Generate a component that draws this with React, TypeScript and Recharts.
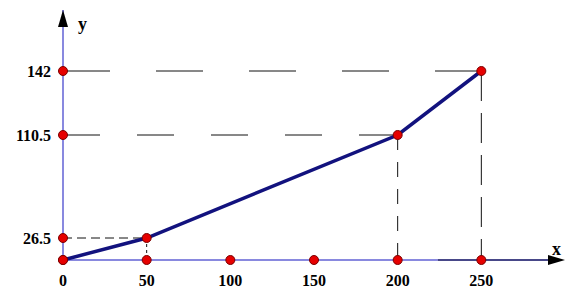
import React from "react";
import {
  ComposedChart,
  Line,
  Scatter,
  XAxis,
  YAxis,
  ReferenceLine,
  ReferenceDot,
} from "recharts";

// data
const xTicks = [0, 50, 100, 150, 200, 250];
const yTicks = [26.5, 110.5, 142];
const pathX = [0, 50, 200, 250];
const pathY = [0, 26.5, 110.5, 142];

// y axis in the picture is not evenly spaced: knots (value) -> share of the axis height
const yKnots = [0, 26.5, 110.5, 142, 190];
const yShare = [0, 0.088, 0.5, 0.756, 1];

const X_MAX = 300;
const Y_MAX = 190;

const lineData = pathX.map((x, i) => ({ x, y: pathY[i] }));
const axisDots = [
  ...xTicks.map(x => ({ x, y: 0 })),
  ...yTicks.map(y => ({ x: 0, y })),
];

// dashed guides from the corner points to the axes
const guides = [
  { x: 50, y: 26.5, h: "9 5", v: "3 3" },
  { x: 200, y: 110.5, h: "37 37", v: "15 12" },
  { x: 250, y: 142, h: "47 46", v: "30 12" },
];

const FONT = "'Liberation Serif', 'Times New Roman', serif";
const NAVY = "#12127e";
const AXIS = "#6262d4";

// piecewise linear scale, shaped like a d3 scale so recharts can use it
function knotScale(knots: number[], share: number[]) {
  const make = (dom: number[], rng: number[]) => {
    let d = dom;
    let r = rng;
    const s: any = (v: number) => {
      let i = 1;
      while (i < knots.length - 1 && v > knots[i]) i++;
      const t = (v - knots[i - 1]) / (knots[i] - knots[i - 1]);
      const f = share[i - 1] + t * (share[i] - share[i - 1]);
      return r[0] + f * (r[r.length - 1] - r[0]);
    };
    s.domain = (nd?: number[]) => {
      if (nd === undefined) return d.slice();
      d = nd.slice();
      return s;
    };
    s.range = (nr?: number[]) => {
      if (nr === undefined) return r.slice();
      r = nr.slice();
      return s;
    };
    s.copy = () => make(d.slice(), r.slice());
    s.ticks = () => knots.slice(0, -1);
    return s;
  };
  return make([knots[0], knots[knots.length - 1]], [0, 1]);
}

const yScale = knotScale(yKnots, yShare);

function RedDot(props: any) {
  const { cx, cy } = props;
  if (cx == null || cy == null) return null;
  return <circle cx={cx} cy={cy} r={4.5} fill="#e60000" stroke="#7a0000" strokeWidth={1} />;
}

function ArrowX(props: any) {
  const { cx, cy } = props;
  return <polygon points={`${cx},${cy} ${cx - 17},${cy - 5} ${cx - 17},${cy + 5}`} fill="#000" />;
}

function ArrowY(props: any) {
  const { cx, cy } = props;
  return <polygon points={`${cx},${cy} ${cx - 5},${cy + 17} ${cx + 5},${cy + 17}`} fill="#000" />;
}

const tickStyle = { fontFamily: FONT, fontWeight: 700, fontSize: 16, fill: "#000" };

export default function App() {
  return (
    <div style={{ position: "absolute", left: 0, top: 0, background: "#fff" }}>
      <ComposedChart
        width={575}
        height={303}
        margin={{ top: 10, right: 10, bottom: 13, left: 8 }}
      >
        <XAxis
          type="number"
          dataKey="x"
          domain={[0, X_MAX]}
          ticks={xTicks}
          axisLine={false}
          tickLine={false}
          tickSize={6}
          tickMargin={9}
          height={30}
          tick={tickStyle}
          interval={0}
        />
        <YAxis
          type="number"
          dataKey="y"
          domain={[0, Y_MAX]}
          scale={yScale}
          ticks={yTicks}
          axisLine={false}
          tickLine={false}
          tickSize={6}
          tickMargin={6}
          width={55}
          tick={tickStyle}
          interval={0}
        />

        {guides.map(g => (
          <ReferenceLine
            key={`h${g.x}`}
            segment={[{ x: 0, y: g.y }, { x: g.x, y: g.y }]}
            stroke="#111"
            strokeWidth={1}
            strokeDasharray={g.h}
          />
        ))}
        {guides.map(g => (
          <ReferenceLine
            key={`v${g.x}`}
            segment={[{ x: g.x, y: g.y }, { x: g.x, y: 0 }]}
            stroke="#111"
            strokeWidth={1}
            strokeDasharray={g.v}
          />
        ))}

        {/* axes with arrows */}
        <ReferenceLine segment={[{ x: 0, y: 0 }, { x: 0, y: Y_MAX }]} stroke={AXIS} strokeWidth={1.5} />
        <ReferenceLine segment={[{ x: 0, y: 0 }, { x: 224, y: 0 }]} stroke={AXIS} strokeWidth={1.5} />
        <ReferenceLine segment={[{ x: 224, y: 0 }, { x: X_MAX - 8, y: 0 }]} stroke="#0a0a60" strokeWidth={1.5} />
        <ReferenceDot x={X_MAX} y={0} shape={ArrowX} />
        <ReferenceDot x={0} y={Y_MAX} shape={ArrowY} />

        <Line
          data={lineData}
          dataKey="y"
          type="linear"
          stroke={NAVY}
          strokeWidth={3.5}
          dot={<RedDot />}
          activeDot={false}
          isAnimationActive={false}
        />
        <Scatter data={axisDots} dataKey="y" shape={<RedDot />} isAnimationActive={false} />

        <text x={78} y={30} fontFamily={FONT} fontWeight={700} fontSize={18} fill="#000">
          y
        </text>
        <text x={552} y={255} fontFamily={FONT} fontWeight={700} fontSize={18} fill="#000">
          x
        </text>
      </ComposedChart>
    </div>
  );
}
